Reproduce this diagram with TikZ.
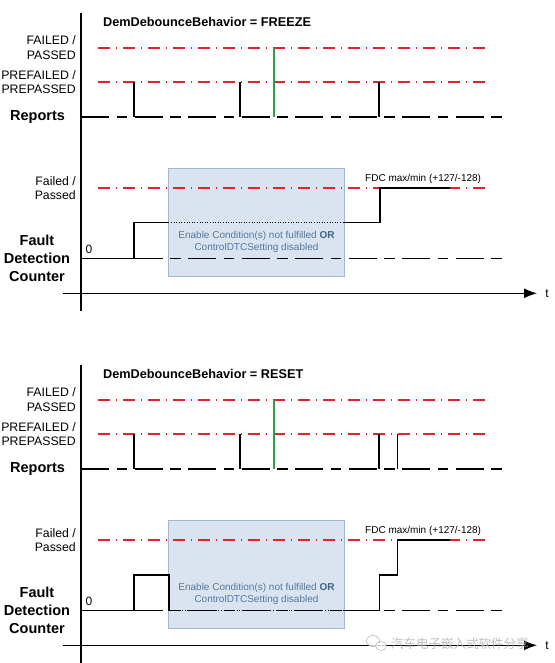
\documentclass[tikz,border=0pt]{standalone}
\usepackage{fontspec}
\setmainfont{Liberation Sans}
\newfontfamily\cjk{Noto Sans CJK SC}
\usetikzlibrary{arrows.meta}
\definecolor{thrred}{RGB}{224,35,46}
\definecolor{boxfill}{HTML}{DAE4F0}
\definecolor{boxline}{HTML}{A3B8CF}
\definecolor{boxtext}{HTML}{55779A}
\definecolor{boxbold}{HTML}{3F6288}
\definecolor{grn}{HTML}{2E9E45}
\begin{document}
\begin{tikzpicture}[x=1pt,y=-1pt,
  axis/.style={line width=1.1pt},
  sig/.style={line width=1.3pt, line join=miter},
  thr/.style={draw=thrred, line width=1.4pt, dash pattern=on 11.5pt off 6pt on 1.5pt off 6pt},
  base/.style={line width=1.3pt, dash pattern=on 28pt off 7.5pt on 10.5pt off 7.5pt},
  frozen/.style={line width=1.3pt, dash pattern=on 1pt off 1.6pt},
  lbl/.style={font=\fontsize{12.3}{14.5}\selectfont, align=right, anchor=east, inner sep=0pt},
  big/.style={font=\bfseries\fontsize{14.5}{18}\selectfont, inner sep=0pt, align=center},
  ttl/.style={font=\bfseries\fontsize{12.7}{14}\selectfont, anchor=west, inner sep=0pt},
  small/.style={font=\fontsize{10}{12}\selectfont, inner sep=0pt},
  cond/.style={draw=boxline, fill=boxfill, line width=0.8pt, anchor=north west, minimum width=176pt, minimum height=107.7pt, inner sep=0pt},
  condtxt/.style={font=\fontsize{10}{12}\selectfont, text=boxtext, align=center, inner sep=0pt},
  arr/.style={-{Latex[length=13pt,width=10pt]}},
]
\useasboundingbox (0,0) rectangle (554,663);

% ---------- condition boxes ----------
\node[cond] (boxFREEZE) at (168.3,168.3) {};
\node[cond] (boxRESET) at (168.3,520.3) {};

% ---------- threshold lines (red dash-dot) ----------
\foreach \yy in {48,82,188,400,434,540}{
  \draw[thr] (98,\yy) -- (485,\yy);
}

% ---------- graphics of both panels ----------
\foreach \dy/\mode in {0/FREEZE,352/RESET}{
\begin{scope}[shift={(0,\dy)}]
  % axes
  \coordinate (vt\mode) at (81,12.7);
  \coordinate (vb\mode) at (81,311);
  \coordinate (hs\mode) at (63,293.3);
  \coordinate (he\mode) at (537,293.3);
  \draw[axis] (vt\mode) -- (vb\mode);
  \draw[axis,arr] (hs\mode) -- (he\mode);
  % base lines
  \coordinate (r1\mode) at (81,117);    \coordinate (r2\mode) at (502,117);
  \coordinate (z1\mode) at (81,258.7);  \coordinate (z2\mode) at (502,258.7);
  \draw[base] (r1\mode) -- (r2\mode);
  \draw[base] (z1\mode) -- (z2\mode);
  % common report pulses
  \foreach \px in {134,240,379}{
    \draw[sig] (\px,117) -- (\px,82);
  }
  \draw[sig, draw=grn] (274,117) -- (274,48);
\end{scope}
}

% ---------- FREEZE counter ----------
\draw[sig] (81,258.7) -- (134,258.7) -- (134,222.3) -- (168.3,222.3);
\draw[frozen] (168.3,222.3) -- (344.3,222.3);
\draw[sig] (344.3,222.3) -- (380,222.3) -- (380,188) -- (450,188);

% ---------- RESET extra pulse and counter ----------
\begin{scope}[shift={(0,352)}]
  \draw[sig] (397.5,117) -- (397.5,82);
  \draw[sig] (81,258.7) -- (134,258.7) -- (134,223) -- (169,223) -- (169,258.7);
  \draw[frozen] (169,258.7) -- (344.3,258.7);
  \draw[sig] (344.3,258.7) -- (379.3,258.7) -- (379.3,223) -- (397.3,223) -- (397.3,188) -- (450,188);
\end{scope}

% ---------- texts of both panels ----------
\foreach \dy/\mode in {0/FREEZE,352/RESET}{
\begin{scope}[shift={(0,\dy)}]
  \node[ttl] (title\mode) at (103,22) {DemDebounceBehavior = \mode};
  \node[lbl] (fp\mode) at (76,47.5) {FAILED /\\PASSED};
  \node[lbl] (pp\mode) at (76,82) {PREFAILED /\\PREPASSED};
  \node[big, anchor=west] (rep\mode) at (10,117) {Reports};
  \node[lbl] (fpl\mode) at (76,188) {Failed /\\Passed};
  \node[big] (fdc\mode) at (37,258) {Fault\\Detection\\Counter};
  \node[font=\fontsize{12}{14}\selectfont, inner sep=0pt] (zero\mode) at (89,249) {0};
  \node[small, anchor=west] (max\mode) at (365,178.5) {FDC max/min (+127/-128)};
  \node[font=\fontsize{12}{14}\selectfont, inner sep=0pt] (tt\mode) at (547,294) {t};
  \node[condtxt] (boxt\mode) at (256.5,242) {Enable Condition(s) not fulfilled {\color{boxbold}\bfseries OR}\\ControlDTCSetting disabled};
\end{scope}
}

% ---------- watermark ----------
\begin{scope}[draw=gray!70, line width=0.6pt, opacity=0.8]
  \draw[fill=white] (373,641) ellipse (6.5pt and 5.5pt);
  \draw[fill=white] (381,646) ellipse (5.5pt and 4.5pt);
\end{scope}
\node[font=\cjk\fontsize{12.5}{14}\selectfont, text=gray!60, opacity=0.85, anchor=west, inner sep=0pt] (wm) at (391,644) {汽车电子嵌入式软件分享};
\end{tikzpicture}
\end{document}
